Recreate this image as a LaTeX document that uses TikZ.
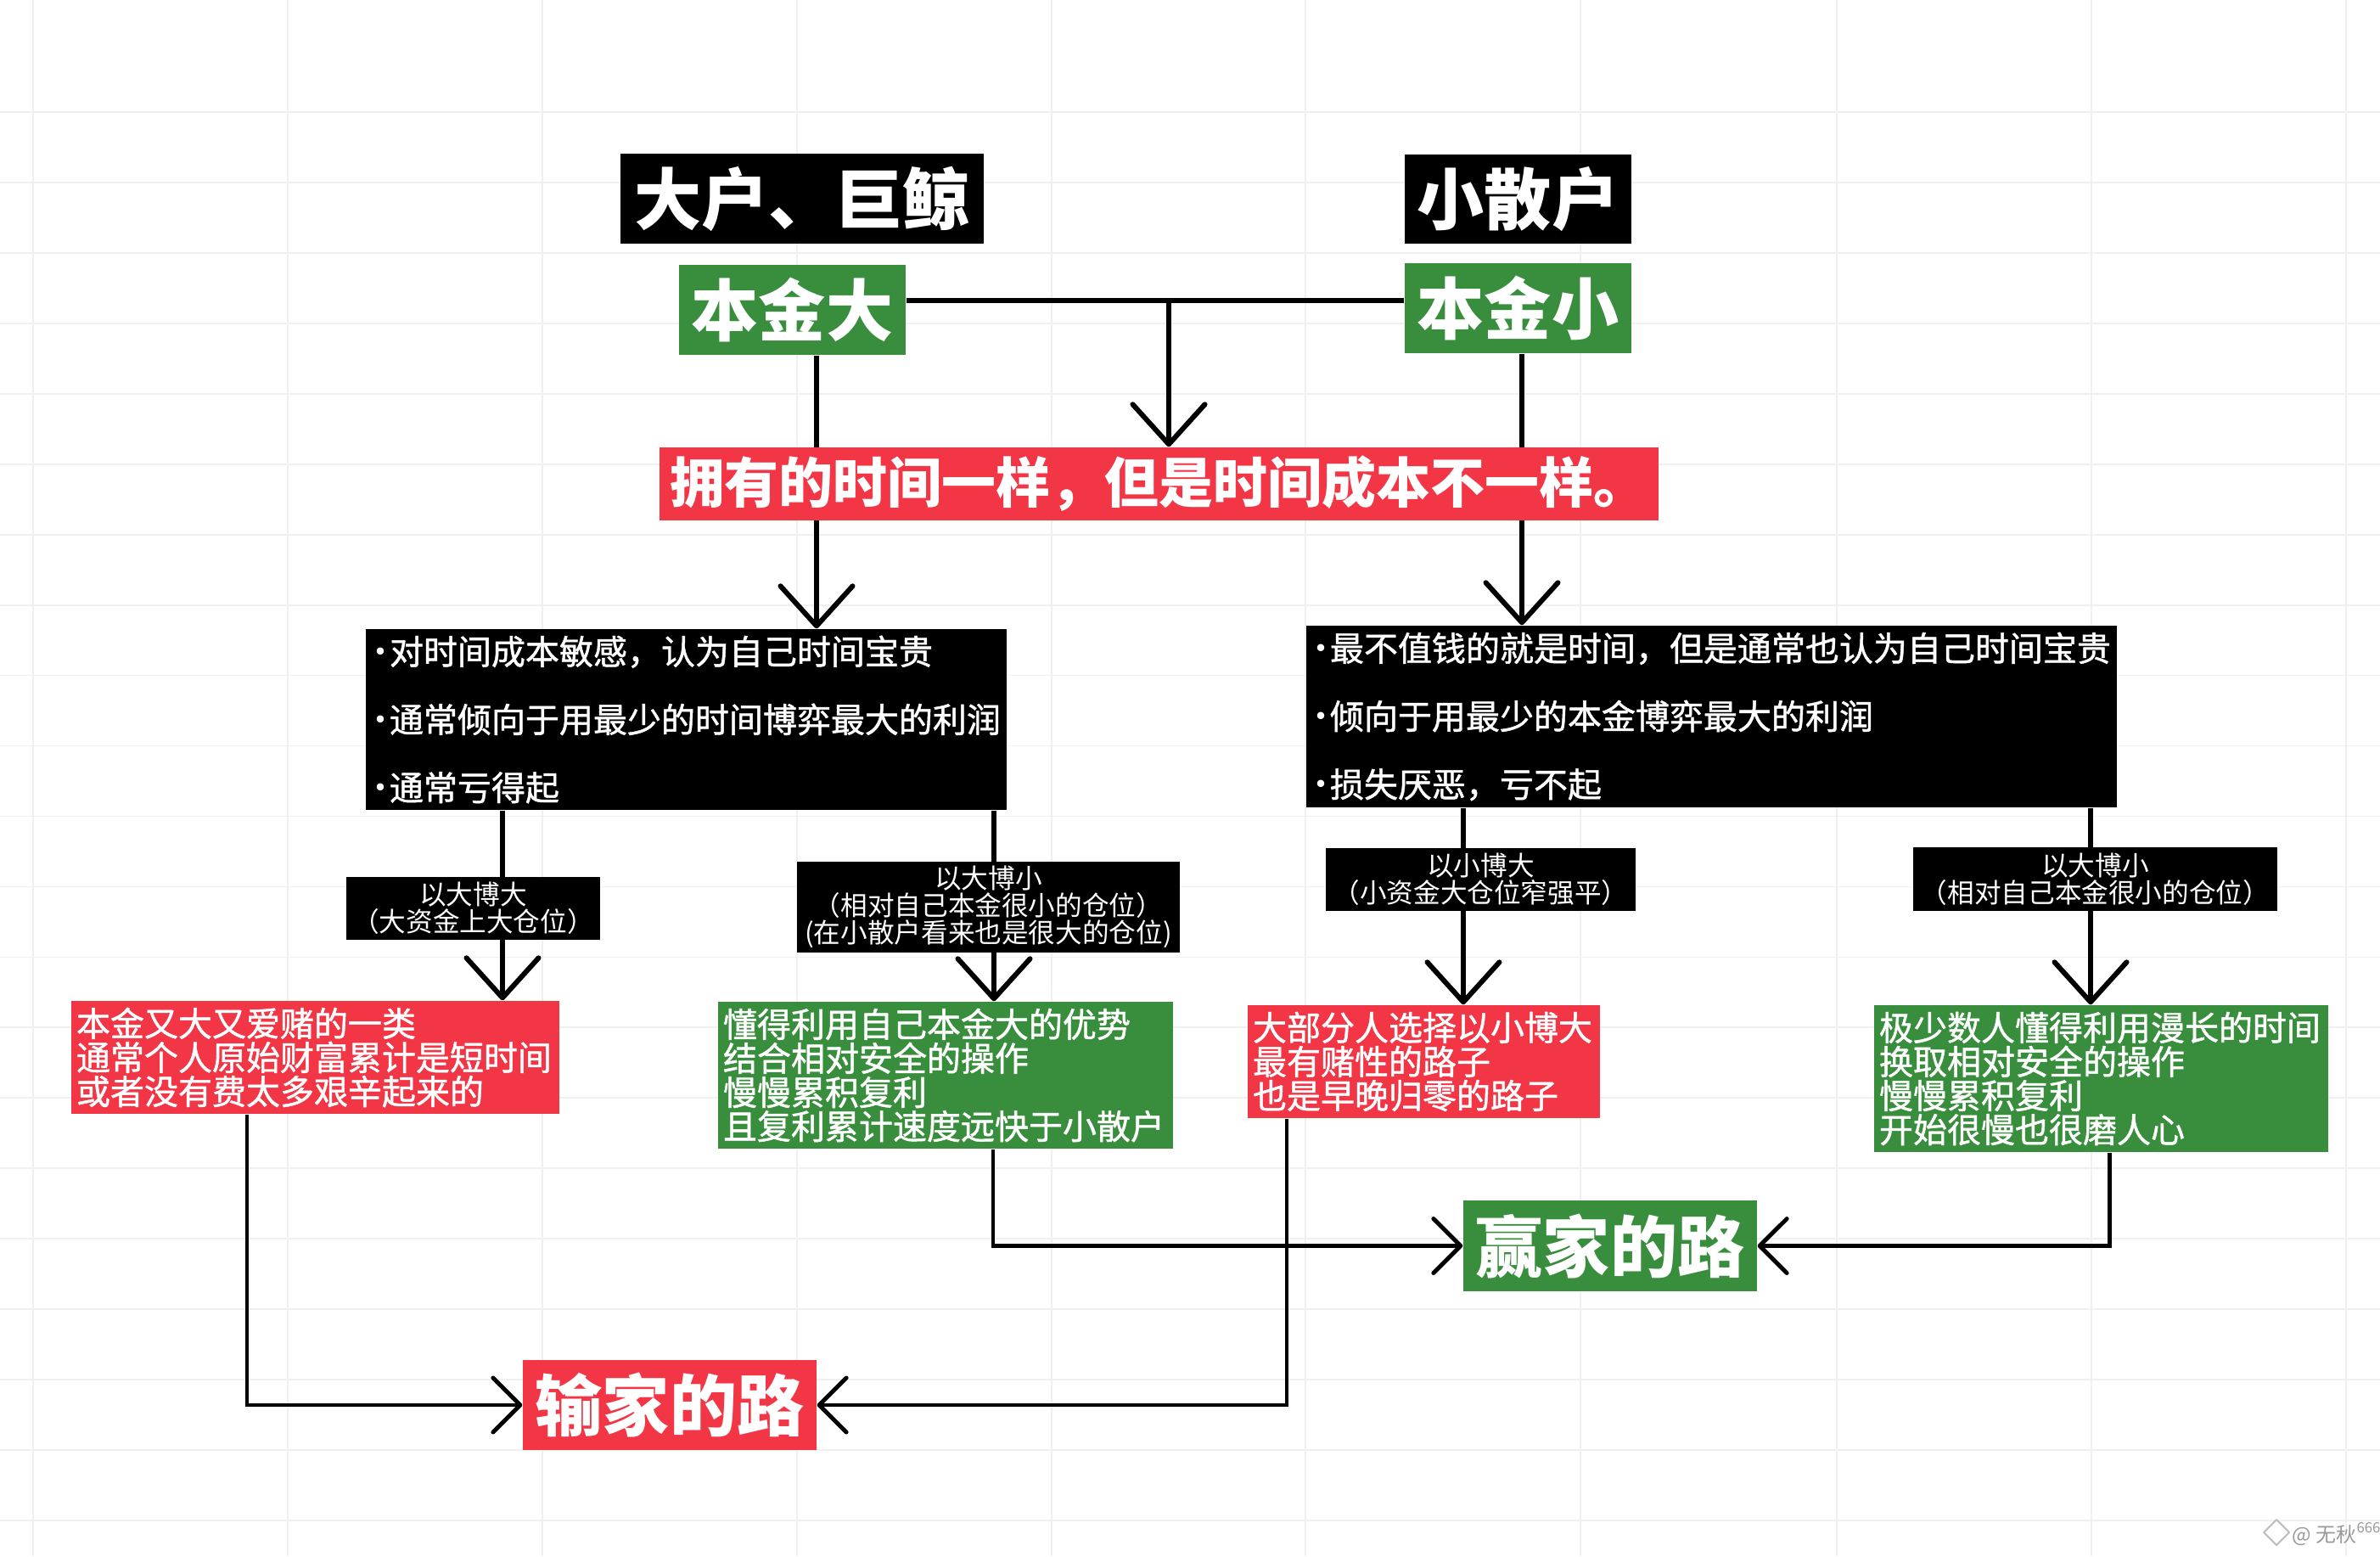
\documentclass[tikz,border=0pt]{standalone}
\usepackage{fontspec}
\newfontfamily\cjk{Noto Sans CJK SC}
\newfontfamily\cjkmid[FakeBold=1.2]{Noto Sans CJK SC}
\usetikzlibrary{arrows.meta,backgrounds}
\definecolor{winGreen}{HTML}{388E3C}
\definecolor{loseRed}{HTML}{F23645}
\newcommand{\notedot}{\makebox[0.55em][c]{\cjk ·}}
\begin{document}
\begin{tikzpicture}[line join=round, line cap=round,
		big/.style={inner sep=0pt, text=white, font=\cjk\bfseries\fontsize{22.5pt}{24pt}\selectfont},
		tag/.style={inner sep=0pt, fill=black, text=white, align=center, font=\cjk\fontsize{9pt}{9.1pt}\selectfont},
		note/.style={inner xsep=0.06cm, inner ysep=0pt, text=white, align=left, font=\cjkmid\fontsize{11.38pt}{11.4pt}\selectfont},
		link/.style={line width=1.7pt},
		down/.style={link, -{Straight Barb[length=0.47cm, width=0.85cm, round]}},
		side/.style={line width=1.4pt, -{Straight Barb[length=0.32cm, width=0.64cm, round]}},
		gridline/.style={black!6, line width=0.5pt}]
	\useasboundingbox (0,0) rectangle (28.04,-18.33);
	\begin{scope}[on background layer]
		\fill[white] (0,0) rectangle (28.04,-18.33);
		\foreach \gx in {0.39,3.39,6.39,9.39,12.39,15.38,18.62,21.64,24.64,27.64}
			\draw[gridline] (\gx,0) -- (\gx,-18.33);
		\foreach \k in {0,...,20}
			\draw[gridline] (0,{-1.32-0.8295*\k}) -- (28.04,{-1.32-0.8295*\k});
	\end{scope}

	\node[big, fill=black, minimum width=4.28cm, minimum height=1.06cm] (bigw) at (9.45,-2.34) {大户、巨鲸};
	\node[big, fill=black, minimum width=2.67cm, minimum height=1.05cm] (smallw) at (17.885,-2.345) {小散户};
	\node[big, fill=winGreen, minimum width=2.67cm, minimum height=1.06cm] (bigcap) at (9.335,-3.65) {本金大};
	\node[big, fill=winGreen, minimum width=2.67cm, minimum height=1.06cm] (smallcap) at (17.885,-3.63) {本金小};
	\node[big, fill=loseRed, minimum width=11.77cm, minimum height=0.86cm, font=\cjk\bfseries\fontsize{18.2pt}{20pt}\selectfont] (banner) at (13.655,-5.70) {拥有的时间一样，但是时间成本不一样。};

	\node[note, fill=black, text width=7.43cm, minimum height=2.13cm] (leftnote) at (8.085,-8.475) {\notedot 对时间成本敏感，认为自己时间宝贵\\[11.4pt]\notedot 通常倾向于用最少的时间博弈最大的利润\\[11.4pt]\notedot 通常亏得起};
	\node[note, fill=black, text width=9.43cm, minimum height=2.14cm] (rightnote) at (20.165,-8.44) {\notedot 最不值钱的就是时间，但是通常也认为自己时间宝贵\\[11.4pt]\notedot 倾向于用最少的本金博弈最大的利润\\[11.4pt]\notedot 损失厌恶，亏不起};

	\node[tag, minimum width=2.99cm, minimum height=0.74cm] (tagBB) at (5.575,-10.70) {以大博大\\（大资金上大仓位）};
	\node[tag, minimum width=4.51cm, minimum height=1.07cm] (tagBSa) at (11.645,-10.685) {以大博小\\（相对自己本金很小的仓位）\\(在小散户看来也是很大的仓位)};
	\node[tag, minimum width=3.65cm, minimum height=0.74cm] (tagSB) at (17.445,-10.36) {以小博大\\（小资金大仓位窄强平）};
	\node[tag, minimum width=4.29cm, minimum height=0.75cm] (tagBSb) at (24.685,-10.355) {以大博小\\（相对自己本金很小的仓位）};

	\node[note, fill=loseRed, text width=5.63cm, minimum height=1.33cm] (gambler) at (3.715,-12.455) {本金又大又爱赌的一类\\通常个人原始财富累计是短时间\\或者没有费太多艰辛起来的};
	\node[note, fill=winGreen, text width=5.24cm, minimum height=1.73cm] (patient) at (11.14,-12.665) {懂得利用自己本金大的优势\\结合相对安全的操作\\慢慢累积复利\\且复利累计速度远快于小散户};
	\node[note, fill=loseRed, text width=4.03cm, minimum height=1.33cm] (retail) at (16.775,-12.505) {大部分人选择以小博大\\最有赌性的路子\\也是早晚归零的路子};
	\node[note, fill=winGreen, text width=5.23cm, minimum height=1.73cm] (fewwise) at (24.755,-12.705) {极少数人懂得利用漫长的时间\\换取相对安全的操作\\慢慢累积复利\\开始很慢也很磨人心};

	\node[big, fill=winGreen, minimum width=3.46cm, minimum height=1.07cm] (win) at (18.97,-14.675) {赢家的路};
	\node[big, fill=loseRed, minimum width=3.46cm, minimum height=1.06cm] (lose) at (7.89,-16.55) {输家的路};

	\node[text=black!40, font=\cjk\fontsize{6.8pt}{7pt}\selectfont, anchor=west, inner sep=0pt] (mark) at (27.00,-18.07) {@ 无秋\textsuperscript{666}};
	\draw[black!25, line width=0.6pt] (26.82,-17.90) -- (26.97,-18.05) -- (26.82,-18.20) -- (26.67,-18.05) -- cycle;

	\coordinate (mid) at (13.77,-3.54);
	\coordinate (xa) at (9.62,0);
	\coordinate (xb) at (17.93,0);
	\coordinate (xc) at (5.92,0);
	\coordinate (xd) at (11.71,0);
	\coordinate (xe) at (17.24,0);
	\coordinate (xf) at (24.63,0);
	\coordinate (xg) at (2.91,0);
	\coordinate (xh) at (15.16,0);
	\coordinate (xi) at (11.70,0);
	\coordinate (xj) at (24.85,0);

	\begin{scope}[on background layer]
		\draw[link] (bigcap.east |- mid) -- (smallcap.west |- mid);
		\draw[down] (mid) -- (mid |- banner.north);
		\draw[down] (xa |- bigcap.south) -- (xa |- leftnote.north);
		\draw[down] (xb |- smallcap.south) -- (xb |- rightnote.north);
		\draw[down] (xc |- leftnote.south) -- (xc |- gambler.north);
		\draw[down] (xd |- leftnote.south) -- (xd |- patient.north);
		\draw[down] (xe |- rightnote.south) -- (xe |- retail.north);
		\draw[down] (xf |- rightnote.south) -- (xf |- fewwise.north);
		\draw[side] (xg |- gambler.south) |- (lose.west);
		\draw[side] (xh |- retail.south) |- (lose.east);
		\draw[side] (xi |- patient.south) |- (win.west);
		\draw[side] (xj |- fewwise.south) |- (win.east);
	\end{scope}
\end{tikzpicture}
\end{document}
